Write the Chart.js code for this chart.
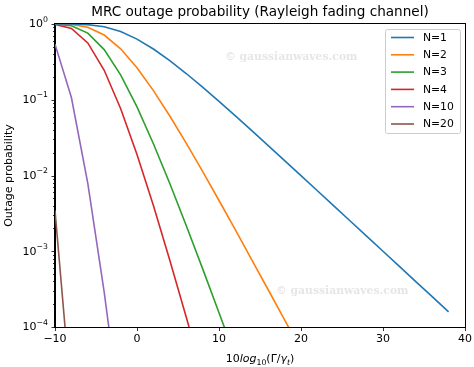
<!DOCTYPE html>
<html>
<head>
<meta charset="utf-8">
<script src="https://cdn.jsdelivr.net/npm/chart.js@4.4.1/dist/chart.umd.min.js"></script>
<style>
  html, body { margin: 0; padding: 0; background: #fff; }
  #wrap { width: 474px; height: 367px; }
</style>
</head>
<body>
<div id="wrap"><canvas id="chart" width="474" height="367"></canvas></div>
<script>
// x axis: 10log10(Gamma/gamma_t) in dB, one sample every 2 dB
const snrDb = [-10, -8, -6, -4, -2, 0, 2, 4, 6, 8, 10, 12, 14, 16, 18, 20, 22, 24, 26, 28, 30, 32, 34, 36, 38];

const seriesNames = ['N=1', 'N=2', 'N=3', 'N=4', 'N=10', 'N=20'];
const seriesColors = ['#1f77b4', '#ff7f0e', '#2ca02c', '#d62728', '#9467bd', '#8c564b'];

// outage probability (each series stops once it leaves the plot)
const outN1 = [0.99995, 0.99818, 0.98134, 0.9189, 0.7951, 0.63212, 0.4679, 0.3284, 0.2221, 0.1466,
  0.09516, 0.06115, 0.03903, 0.02481, 0.01572, 0.00995, 0.00629, 0.003973, 0.002509, 0.001584,
  0.0009995, 0.0006308, 0.000398, 0.0002512, 0.0001585];
const outN2 = [0.9995, 0.9867, 0.9071, 0.7152, 0.4703, 0.2642, 0.1321, 0.0610, 0.02673, 0.01131,
  0.004679, 0.0019087, 0.0007717, 0.00031028, 0.00012428, 0.00004967];
const outN3 = [0.99723, 0.9505, 0.7591, 0.4592, 0.2127, 0.0803, 0.02629, 0.007825, 0.0021902, 0.00058941,
  0.00015465, 0.000039925];
const outN4 = [0.98966, 0.8744, 0.5628, 0.2450, 0.07673, 0.01899, 0.0040084, 0.00076273, 0.00013578, 0.00002316];
const outN10 = [0.54207, 0.10687, 0.007885, 0.0002878, 0.00000658];
const outN20 = [0.003454, 0.0000106];

const xTicks = [-10, 0, 10, 20, 30, 40];
const yDecades = [1, 0.1, 0.01, 0.001, 0.0001];
const yExponents = ['0', '\u22121', '\u22122', '\u22123', '\u22124'];

const FONT = '"DejaVu Sans", sans-serif';
const allSeries = [outN1, outN2, outN3, outN4, outN10, outN20];

const datasets = allSeries.map((vals, i) => ({
  label: seriesNames[i],
  data: vals.map((v, j) => ({ x: snrDb[j], y: v })),
  borderColor: seriesColors[i],
  backgroundColor: seriesColors[i],
  borderWidth: 1.6,
  pointRadius: 0,
  tension: 0,
  fill: false
}));

// watermark, title, axis labels, y ticks, frame and legend (matplotlib look)
const decorPlugin = {
  id: 'decor',
  beforeDatasetsDraw(chart) {
    const ctx = chart.ctx;
    ctx.save();
    ctx.fillStyle = '#e6e6e6';
    ctx.font = 'bold 10.8px "DejaVu Serif", serif';
    ctx.textBaseline = 'middle';
    ctx.textAlign = 'left';
    ctx.fillText('\u00a9 gaussianwaves.com', 225, 57);
    ctx.fillText('\u00a9 gaussianwaves.com', 276, 291);
    ctx.restore();
  },
  afterDraw(chart) {
    const ctx = chart.ctx;
    const area = chart.chartArea;
    const yScale = chart.scales.y;
    ctx.save();

    // frame
    ctx.strokeStyle = '#000';
    ctx.lineWidth = 1;
    ctx.strokeRect(Math.round(area.left) - 0.5, Math.round(area.top) - 0.5,
      Math.round(area.right - area.left) + 1, Math.round(area.bottom - area.top) + 1);

    // y ticks: decades long, 2..9 short
    ctx.lineWidth = 0.8;
    ctx.beginPath();
    for (let e = -4; e <= 0; e++) {
      for (let m = 1; m <= 9; m++) {
        const v = m * Math.pow(10, e);
        if (v > 1.0001) break;
        const py = Math.round(yScale.getPixelForValue(v)) + 0.5;
        const len = m === 1 ? 3.5 : 2;
        ctx.moveTo(area.left, py);
        ctx.lineTo(area.left - len, py);
      }
    }
    ctx.stroke();

    // y tick labels 10^k
    ctx.fillStyle = '#000';
    ctx.textBaseline = 'middle';
    yDecades.forEach((v, i) => {
      const py = yScale.getPixelForValue(v);
      ctx.font = '7.8px ' + FONT;
      const expW = ctx.measureText(yExponents[i]).width;
      const right = area.left - 7;
      ctx.textAlign = 'left';
      ctx.fillText(yExponents[i], right - expW, py - 4.5);
      ctx.font = '11px ' + FONT;
      ctx.textAlign = 'right';
      ctx.fillText('10', right - expW, py + 0.5);
    });

    // title
    ctx.font = '13.6px ' + FONT;
    ctx.textAlign = 'center';
    ctx.textBaseline = 'alphabetic';
    ctx.fillText('MRC outage probability (Rayleigh fading channel)', (area.left + area.right) / 2, 16);

    // y label
    ctx.save();
    ctx.translate(12, (area.top + area.bottom) / 2);
    ctx.rotate(-Math.PI / 2);
    ctx.font = '11px ' + FONT;
    ctx.textAlign = 'center';
    ctx.fillText('Outage probability', 0, 0);
    ctx.restore();

    // x label: 10log_10(Γ/γ_t)
    const parts = [
      { t: '10', f: '11px ' + FONT, dy: 0 },
      { t: 'log', f: 'italic 11px ' + FONT, dy: 0 },
      { t: '10', f: '7.8px ' + FONT, dy: 2.5 },
      { t: '(\u0393/', f: '11px ' + FONT, dy: 0 },
      { t: '\u03b3', f: 'italic 11px ' + FONT, dy: 0 },
      { t: 't', f: 'italic 7.8px ' + FONT, dy: 2.5 },
      { t: ')', f: '11px ' + FONT, dy: 0 }
    ];
    let total = 0;
    parts.forEach(p => { ctx.font = p.f; p.w = ctx.measureText(p.t).width; total += p.w; });
    let px = (area.left + area.right) / 2 - total / 2;
    ctx.textAlign = 'left';
    parts.forEach(p => { ctx.font = p.f; ctx.fillText(p.t, px, 362 + p.dy); px += p.w; });

    // legend
    const lx = 385, ly = 29, lw = 75, lh = 104;
    ctx.fillStyle = 'rgba(255,255,255,0.8)';
    ctx.strokeStyle = '#cccccc';
    ctx.lineWidth = 1;
    ctx.beginPath();
    ctx.roundRect(lx + 0.5, ly + 0.5, lw, lh, 2);
    ctx.fill();
    ctx.stroke();
    ctx.font = '10.8px ' + FONT;
    ctx.textBaseline = 'middle';
    chart.data.datasets.forEach((ds, i) => {
      const ry = ly + 8.5 + i * 17.3;
      ctx.strokeStyle = ds.borderColor;
      ctx.lineWidth = 1.6;
      ctx.beginPath();
      ctx.moveTo(lx + 6, ry);
      ctx.lineTo(lx + 29, ry);
      ctx.stroke();
      ctx.fillStyle = '#000';
      ctx.fillText(ds.label, lx + 38, ry + 0.5);
    });

    ctx.restore();
  }
};

new Chart(document.getElementById('chart'), {
  type: 'line',
  data: { datasets: datasets },
  options: {
    responsive: false,
    animation: false,
    layout: { padding: { left: 0, right: 8, top: 24, bottom: 0 } },
    plugins: {
      legend: { display: false },
      title: { display: false },
      tooltip: { enabled: false }
    },
    scales: {
      x: {
        type: 'linear',
        min: -10,
        max: 40,
        afterBuildTicks: (axis) => { axis.ticks = xTicks.map(v => ({ value: v })); },
        afterFit: (axis) => { axis.height = 40; },
        ticks: {
          color: '#000',
          font: { family: 'DejaVu Sans', size: 11 },
          padding: 2,
          maxRotation: 0,
          callback: (v) => String(v).replace('-', '\u2212')
        },
        grid: { drawOnChartArea: false, drawTicks: true, tickLength: 4, tickColor: '#000', tickWidth: 0.8 },
        border: { display: true, color: '#000', width: 1 }
      },
      y: {
        type: 'logarithmic',
        min: 0.0001,
        max: 1,
        afterFit: (axis) => { axis.width = 55; },
        ticks: { display: false },
        grid: { display: false },
        border: { display: true, color: '#000', width: 1 }
      }
    }
  },
  plugins: [decorPlugin]
});
</script>
</body>
</html>
